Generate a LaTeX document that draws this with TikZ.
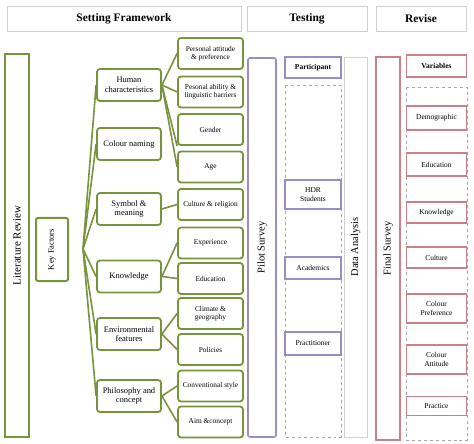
\documentclass[tikz,border=0pt]{standalone}
\usepackage{fontspec}
\setmainfont{Liberation Serif}
\usepackage{tikz}
\usetikzlibrary{calc, backgrounds, positioning, shapes}

\definecolor{grncol}{HTML}{77933C}
\definecolor{purcol}{HTML}{9A8DC0}
\definecolor{pnkcol}{HTML}{CC7F86}
\definecolor{gracol}{HTML}{D0D0D0}

\tikzset{
  headbox/.style={draw=gracol, line width=.8bp, font=\bfseries\fontsize{11.5}{13}\selectfont, inner sep=0pt},
  litbox/.style={draw=grncol, line width=2bp, inner sep=0pt},
  keybox/.style={draw=grncol, line width=2bp, rounded corners=2bp, inner sep=0pt},
  factbox/.style={draw=grncol, line width=1.8bp, rounded corners=3bp, inner sep=0pt,
    minimum width=64bp, minimum height=32bp, align=center, font=\fontsize{8.5}{9.5}\selectfont},
  subbox/.style={draw=grncol, line width=1.8bp, rounded corners=3bp, inner sep=0pt,
    minimum width=65bp, minimum height=31bp, align=center, font=\fontsize{7.4}{8.4}\selectfont},
  fanline/.style={grncol, line width=1.6bp},
  pilbox/.style={draw=purcol, line width=1.6bp, rounded corners=2bp, inner sep=0pt},
  parbox/.style={draw=purcol, line width=1.4bp, fill=white, inner sep=0pt, minimum width=56bp,
    align=center, font=\fontsize{7.5}{8.5}\selectfont},
  finbox/.style={draw=pnkcol, line width=1.8bp, inner sep=0pt},
  varbox/.style={draw=pnkcol, line width=1.6bp, fill=white, inner sep=0pt, minimum width=60bp,
    align=center, font=\fontsize{7.5}{8.5}\selectfont},
  dashbox/.style={draw=gray!70, line width=.8bp, dashed},
  vtext/.style={rotate=90, font=\fontsize{10.5}{12}\selectfont}
}

\begin{document}
\begin{tikzpicture}[x=1bp,y=-1bp]
\useasboundingbox (0,0) rectangle (474,444);
%%
  % Headers
  \node[headbox, minimum width=234bp, minimum height=25bp] (frame) at (124,18.5) {Setting Framework};
  \node[headbox, minimum width=120bp, minimum height=25bp] (test) at (307,18.5) {Testing};
  \node[headbox, minimum width=90bp, minimum height=25bp] (revise) at (421,18.5) {Revise};
  % Node: literature review
  \node[litbox, minimum width=24bp, minimum height=383bp] (lit) at (17,245.5) {};
  \node[vtext, font=\fontsize{11}{12}\selectfont] at (lit.center) {Literature Review};
  % Node: key factors
  \node[keybox, minimum width=32bp, minimum height=63bp] (key) at (52,249.5) {};
  \node[vtext, font=\fontsize{8.5}{10}\selectfont] at (key.center) {Key Factors};
  \coordinate (fan) at (83,249);
  % Node: factors
  \node[factbox] (human) at (129,85) {Human\\characteristics};
  \node[factbox] (naming) at (129,144) {Colour naming};
  \node[factbox] (symbol) at (129,209) {Symbol \&\\meaning};
  \node[factbox] (know) at (129,276.5) {Knowledge};
  \node[factbox] (envir) at (129,334) {Environmental\\features};
  \node[factbox] (philo) at (129,396) {Philosophy and\\concept};
  % Node: sub factors
  \node[subbox] (attit) at (210.5,53.5) {Personal attitude\\\& preference};
  \node[subbox] (abil) at (210.5,92) {Pesonal ability \&\\linguistic barriers};
  \node[subbox] (gender) at (210.5,129.5) {Gender};
  \node[subbox] (age) at (210.5,167) {Age};
  \node[subbox] (cult) at (210.5,204.5) {Culture \& religion};
  \node[subbox] (exper) at (210.5,243) {Experience};
  \node[subbox] (educ) at (210.5,278.5) {Education};
  \node[subbox] (clim) at (210.5,313.5) {Climate \&\\geography};
  \node[subbox] (polic) at (210.5,349.5) {Policies};
  \node[subbox] (conv) at (210.5,386) {Conventional style};
  \node[subbox] (aim) at (210.5,422) {Aim \&concept};
  % Edge: fan -- factors
  \foreach \f in {human,naming,symbol,know,envir,philo}
    \draw[fanline] (fan) -- (\f.west);
  % Edge: factors -- sub factors
  \draw[fanline] (human.east) -- (attit.west);
  \draw[fanline] (human.east) -- (abil.west);
  \draw[fanline] (human.east) -- (gender.south west);
  \draw[fanline] (human.east) -- (age.west);
  \draw[fanline] (symbol.east) -- (cult.west);
  \draw[fanline] (know.east) -- (exper.west);
  \draw[fanline] (know.east) -- (educ.west);
  \draw[fanline] (envir.east) -- (clim.west);
  \draw[fanline] (envir.east) -- (polic.west);
  \draw[fanline] (philo.east) -- (conv.west);
  \draw[fanline] (philo.east) -- (aim.west);
  % Node: pilot survey
  \node[pilbox, minimum width=28bp, minimum height=379bp] (pilot) at (262,247.5) {};
  \node[vtext] at (pilot.center) {Pilot Survey};
  \draw[dashbox] (285,85) rectangle (341,437);
  \node[parbox, minimum height=21bp, font=\bfseries\fontsize{7.5}{8.5}\selectfont] (partic) at (313,67.5) {Participant};
  \node[parbox, minimum height=29bp] (hdr) at (313,194.5) {HDR\\Students};
  \node[parbox, minimum height=22bp] (acad) at (313,268) {Academics};
  \node[parbox, minimum height=23bp] (pract) at (313,343.5) {Practitioner};
  % Node: data analysis
  \node[draw=gracol, line width=.8bp, inner sep=0pt, minimum width=23bp, minimum height=380bp] (data) at (355.5,247) {};
  \node[vtext] at (data.center) {Data Analysis};
  % Node: final survey
  \node[finbox, minimum width=24bp, minimum height=383bp] (final) at (388,248.5) {};
  \node[vtext] at (final.center) {Final Survey};
  \draw[dashbox] (406,87) rectangle (467,440);
  \node[varbox, minimum height=22bp, font=\bfseries\fontsize{7.5}{8.5}\selectfont] (vars) at (436.5,66) {Variables};
  \node[varbox, minimum height=24bp] (demo) at (436.5,118) {Demographic};
  \node[varbox, minimum height=23bp] (vedu) at (436.5,164.5) {Education};
  \node[varbox, minimum height=21bp] (vknow) at (436.5,212.5) {Knowledge};
  \node[varbox, minimum height=21bp] (vcult) at (436.5,257.5) {Culture};
  \node[varbox, minimum height=29bp] (pref) at (436.5,308.5) {Colour\\Preference};
  \node[varbox, minimum height=29bp] (attd) at (436.5,359.5) {Colour\\Attitude};
  \node[varbox, minimum height=19bp] (pract2) at (436.5,406) {Practice};
%
\end{tikzpicture}
\end{document}
